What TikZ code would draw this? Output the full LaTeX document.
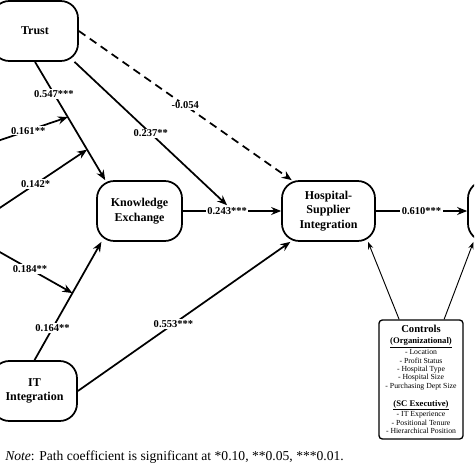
\documentclass[tikz,border=0pt]{standalone}
\usepackage{fontspec}
\setmainfont{Liberation Serif}
\usetikzlibrary{arrows.meta}

\begin{document}
\begin{tikzpicture}[x=0.75pt, y=-0.75pt, line join=round, >={Stealth[length=7.5pt,width=6pt]},
		construct/.style={draw, line width=1.3pt, rounded corners=13pt, minimum height=45pt, inner sep=0pt, align=center, font=\fontsize{9}{11}\selectfont\bfseries},
		coef/.style={fill=white, inner sep=1pt, font=\fontsize{7.9}{8}\selectfont\bfseries},
		link/.style={->, line width=1.3pt},
		ctrllink/.style={-{Stealth[length=5.5pt,width=4pt]}, line width=0.7pt}]
	\useasboundingbox (0,0) rectangle (474,474);
	\clip (0,0) rectangle (474,474);
	% constructs
	\node[construct, minimum width=64.5pt] (trust) at (35,31) {Trust};
	\node[construct, minimum width=63.75pt] (know) at (139.5,211) {Knowledge\\Exchange};
	\node[construct, minimum width=69.75pt] (hsi) at (328.5,211) {Hospital-\\Supplier\\Integration};
	\node[construct, minimum width=63.75pt] (it) at (34.5,391) {IT\\Integration};
	\node[construct, minimum width=67.5pt] (perf) at (513,211) {};
	\node[draw, line width=1pt, rounded corners=2.5pt, minimum width=63pt, minimum height=89.25pt, inner sep=0pt, align=center, font=\fontsize{5.8}{6.3}\selectfont] (ctrl) at (421,379.5)
		{{\fontsize{8}{8}\selectfont\bfseries Controls}\\[2pt]
		\hbox{\fontsize{6.5}{7}\selectfont\bfseries\underline{(Organizational)}}\\
		- Location\\ - Profit Status\\ - Hospital Type\\ - Hospital Size\\ - Purchasing Dept Size\\[7pt]
		\hbox{\fontsize{6.5}{7}\selectfont\bfseries\underline{(SC Executive)}}\\
		- IT Experience\\ - Positional Tenure\\ - Hierarchical Position};
	
	% paths
	\draw[link] (trust.south) -- (know.138) coordinate[pos=0.467] (m161) coordinate[pos=0.742] (m142) node[coef, pos=0.27] {0.547***};
	\draw[link] (it.north) -- (know.-141) coordinate[pos=0.567] (m184) node[coef, pos=0.27] {0.164**};
	\draw[link] (know.east) -- (hsi.west) node[coef, pos=0.45] (c243) {0.243***};
	\draw[link] (trust.-38) -- (c243.north) node[coef, pos=0.5] {0.237**};
	\draw[link, dashed, dash pattern=on 6pt off 4pt] (trust.east) -- (hsi.140) node[coef, pos=0.5] {-0.054};
	\draw[link] (it.east) -- (hsi.-141) node[coef, pos=0.45] {0.553***};
	\draw[link] (hsi.east) -- (perf.west) node[coef, pos=0.5] {0.610***};
	
	% paths from the left
	\coordinate (s161) at (-60,160.6);
	\coordinate (s142) at (-60,247.8);
	\coordinate (s184) at (-60,218.3);
	\draw[link] (s161) -- (m161) node[coef, pos=0.69] {0.161**};
	\draw[link] (s142) -- (m142) node[coef, pos=0.65] {0.142*};
	\draw[link] (s184) -- (m184) node[coef, pos=0.68] {0.184**};
	
	% controls
	\draw[ctrllink] (ctrl.110) -- (hsi.-38);
	\draw[ctrllink] (ctrl.69) -- (perf.-142);
	
	\node[anchor=west, inner sep=0pt, font=\fontsize{10.2}{12}\selectfont] (note) at (5,457) {\textit{Note}: Path coefficient is significant at *0.10, **0.05, ***0.01.};
\end{tikzpicture}
\end{document}
